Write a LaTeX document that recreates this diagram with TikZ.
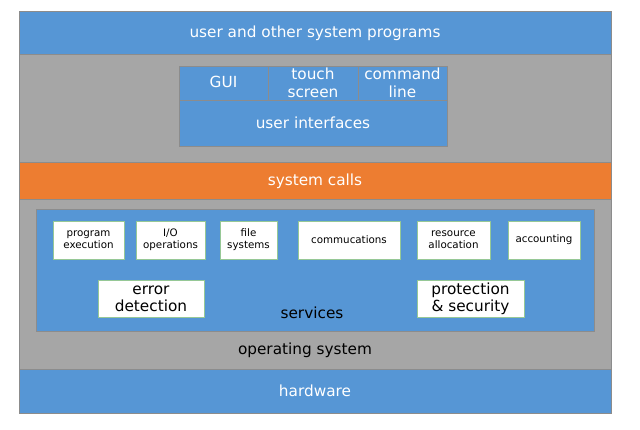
\documentclass[tikz,border=0pt]{standalone}
\usepackage{fontspec}
\setmainfont{DejaVu Sans}
\begin{document}
\begin{tikzpicture}[x=1pt,y=-1pt,
 blue/.style={draw=black!45,fill={rgb,255:red,86;green,150;blue,213},text=white},
 lbl/.style={font=\fontsize{15.3}{17}\selectfont},
 wbox/.style={draw={rgb,255:red,150;green,200;blue,150},fill=white,text=black,align=center,font=\fontsize{10.3}{12}\selectfont},
 bbox/.style={draw={rgb,255:red,150;green,200;blue,150},fill=white,text=black,align=center,font=\fontsize{15.3}{17}\selectfont}]
\useasboundingbox (0,0) rectangle (640,429);
\fill[white] (0,0) rectangle (640,429);
\draw[draw=black!45,fill={rgb,255:red,166;green,166;blue,166}] (19,11) rectangle (611,413);
\draw[blue] (19,11) rectangle (611,54);
\node[text=white,lbl] (usr) at (315,33) {user and other system programs};
\draw[blue] (179,66) rectangle (447,146);
\draw[blue] (179,66) rectangle (268,100);
\draw[blue] (268,66) rectangle (358,100);
\draw[blue] (358,66) rectangle (447,100);
\node[text=white,lbl] (gui) at (223.5,82) {GUI};
\node[text=white,align=center,font=\fontsize{15.3}{17.5}\selectfont] (ts) at (313,83) {touch\\screen};
\node[text=white,align=center,font=\fontsize{15.3}{17.5}\selectfont] (cl) at (402.5,83) {command\\line};
\node[text=white,lbl] (ui) at (313,123) {user interfaces};
\draw[draw=black!45,fill={rgb,255:red,237;green,125;blue,49}] (19,162) rectangle (611,199);
\node[text=white,lbl] (sc) at (315,181) {system calls};
\draw[blue] (36,209) rectangle (594,331);
\node[wbox,minimum width=71pt,minimum height=38pt] (pe) at (88.5,240) {program\\execution};
\node[wbox,minimum width=69pt,minimum height=38pt] (io) at (170.5,240) {I/O\\operations};
\node[wbox,minimum width=57pt,minimum height=38pt] (fs) at (248.5,240) {file\\systems};
\node[wbox,minimum width=102pt,minimum height=38pt] (cm) at (349,240) {commucations};
\node[wbox,minimum width=73pt,minimum height=38pt] (ra) at (453.5,240) {resource\\allocation};
\node[wbox,minimum width=72pt,minimum height=38pt] (ac) at (544,240) {accounting};
\node[bbox,minimum width=106pt,minimum height=37pt,inner sep=1pt] (ed) at (151,298.5) {error\\detection};
\node[bbox,minimum width=107pt,minimum height=37pt,inner sep=1pt] (ps) at (470.5,298.5) {protection\\\& security};
\node[text=black,lbl] (sv) at (312,313) {services};
\node[text=black,lbl] (os) at (305,350) {operating system};
\draw[blue] (19,369) rectangle (611,413);
\node[text=white,lbl] (hw) at (315,391) {hardware};
\end{tikzpicture}
\end{document}
